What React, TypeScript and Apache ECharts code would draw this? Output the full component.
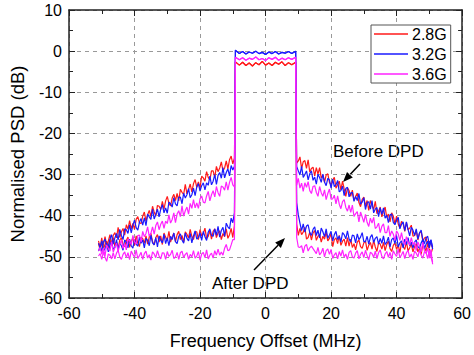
import React, { useEffect, useRef } from "react";
import * as echarts from "echarts";

// Frequency offsets (MHz)
const LEFT_X = [
  -51, -50.5, -50, -49.5, -49, -48.5, -48, -47.5, -47, -46.5,
  -46, -45.5, -45, -44.5, -44, -43.5, -43, -42.5, -42, -41.5,
  -41, -40.5, -40, -39.5, -39, -38.5, -38, -37.5, -37, -36.5,
  -36, -35.5, -35, -34.5, -34, -33.5, -33, -32.5, -32, -31.5,
  -31, -30.5, -30, -29.5, -29, -28.5, -28, -27.5, -27, -26.5,
  -26, -25.5, -25, -24.5, -24, -23.5, -23, -22.5, -22, -21.5,
  -21, -20.5, -20, -19.5, -19, -18.5, -18, -17.5, -17, -16.5,
  -16, -15.5, -15, -14.5, -14, -13.5, -13, -12.5, -12, -11.5,
  -11, -10.5, -10, -9.5,
];
const CARRIER_X = [-9.2, -8, -7, -6, -5, -4, -3, -2, -1, 0, 1, 2, 3, 4, 5, 6, 7, 8, 9.2];
const RIGHT_X = [
  9.5, 10, 10.5, 11, 11.5, 12, 12.5, 13, 13.5, 14,
  14.5, 15, 15.5, 16, 16.5, 17, 17.5, 18, 18.5, 19,
  19.5, 20, 20.5, 21, 21.5, 22, 22.5, 23, 23.5, 24,
  24.5, 25, 25.5, 26, 26.5, 27, 27.5, 28, 28.5, 29,
  29.5, 30, 30.5, 31, 31.5, 32, 32.5, 33, 33.5, 34,
  34.5, 35, 35.5, 36, 36.5, 37, 37.5, 38, 38.5, 39,
  39.5, 40, 40.5, 41, 41.5, 42, 42.5, 43, 43.5, 44,
  44.5, 45, 45.5, 46, 46.5, 47, 47.5, 48, 48.5, 49,
  49.5, 50, 50.5, 51,
];

const SERIES_NAMES = ["2.8G", "3.2G", "3.6G"];

// In-band (carrier) PSD, dB
const CARRIER_28 = [-2.6, -3.4, -2.7, -3.5, -2.9, -3.6, -2.8, -3.3, -2.5, -3.4, -2.9, -3.5, -2.7, -3.2, -2.6, -3.5, -2.8, -3.3, -2.7];
const CARRIER_32 = [0.2, -0.6, -0.1, -0.7, -0.2, -0.5, 0.0, -0.6, -0.3, -0.8, -0.2, -0.6, -0.1, -0.7, -0.3, -0.5, -0.1, -0.6, 0.0];
const CARRIER_36 = [-1.5, -2.1, -1.6, -2.2, -1.7, -2.0, -1.4, -2.1, -1.8, -2.3, -1.6, -2.0, -1.5, -2.2, -1.7, -2.1, -1.6, -2.0, -1.5];

// Before DPD, lower sideband
const BEFORE_L_28 = [
  -46.7, -48.4, -46.7, -47.2, -45.1, -47.1, -46.2, -44.6, -47.0, -44.8,
  -44.1, -45.4, -42.8, -45.3, -43.9, -43.1, -44.7, -42.2, -43.3, -41.2,
  -43.2, -41.9, -43.3, -40.9, -40.2, -41.7, -41.9, -40.1, -39.1, -41.3,
  -39.8, -38.7, -40.2, -37.7, -39.1, -40.1, -37.5, -37.7, -38.5, -36.5,
  -38.4, -36.4, -35.3, -37.0, -37.6, -35.7, -34.8, -36.3, -34.6, -36.4,
  -33.6, -34.3, -34.8, -32.4, -34.7, -33.6, -32.3, -34.2, -32.2, -31.2,
  -33.1, -31.8, -33.2, -30.4, -30.8, -31.6, -29.3, -30.7, -31.3, -29.1,
  -29.1, -30.7, -28.0, -29.3, -28.4, -26.9, -29.1, -28.4, -26.7, -28.6,
  -26.4, -25.5, -27.4, -26.0,
];
const BEFORE_L_32 = [
  -48.6, -47.4, -48.7, -46.4, -45.7, -47.2, -47.4, -45.7, -44.6, -46.9,
  -45.4, -44.3, -45.9, -43.3, -44.8, -45.8, -43.2, -43.4, -44.3, -42.2,
  -44.2, -42.3, -41.1, -42.9, -43.5, -41.6, -40.7, -42.3, -40.5, -42.4,
  -39.6, -40.3, -40.9, -38.4, -40.8, -39.7, -38.4, -40.3, -38.4, -37.3,
  -39.3, -38.1, -39.4, -36.7, -37.1, -37.9, -35.6, -37.1, -37.6, -35.5,
  -35.5, -37.1, -34.5, -35.7, -34.9, -33.4, -35.6, -34.9, -33.3, -35.1,
  -33.0, -32.2, -34.0, -32.7, -32.0, -33.7, -32.0, -32.6, -30.4, -32.5,
  -31.6, -30.0, -32.4, -30.2, -29.5, -30.9, -28.3, -30.8, -29.5, -28.6,
  -30.3, -27.8, -28.9, -28.0,
];
const BEFORE_L_36 = [
  -48.5, -47.7, -49.4, -47.8, -49.8, -47.1, -48.0, -48.6, -46.3, -48.8,
  -47.8, -46.7, -48.7, -46.9, -45.9, -48.0, -46.8, -48.3, -45.6, -46.1,
  -47.0, -44.8, -46.3, -46.9, -44.8, -44.7, -46.4, -43.8, -45.1, -44.3,
  -42.7, -45.0, -44.3, -42.7, -44.5, -42.4, -41.5, -43.4, -42.1, -41.3,
  -43.1, -41.3, -41.9, -39.8, -41.8, -40.9, -39.3, -41.7, -39.6, -38.8,
  -40.2, -37.6, -40.1, -38.8, -37.9, -39.6, -37.0, -38.2, -36.1, -38.1,
  -36.9, -38.2, -35.9, -35.2, -36.7, -36.9, -35.2, -34.1, -36.4, -34.9,
  -33.9, -35.4, -32.9, -34.4, -35.3, -32.8, -33.0, -33.8, -31.8, -33.8,
  -31.9, -30.7, -32.5, -33.0,
];

// Before DPD, upper sideband
const BEFORE_R_28 = [
  -27.2, -26.7, -25.7, -28.5, -26.9, -26.6, -28.5, -26.4, -29.4, -28.5,
  -28.2, -30.3, -28.3, -29.9, -28.3, -30.8, -30.1, -31.9, -30.1, -29.8,
  -31.9, -32.5, -31.3, -30.7, -33.3, -32.4, -31.6, -33.7, -31.6, -33.5,
  -35.3, -33.2, -33.9, -35.3, -33.8, -36.3, -35.3, -34.5, -36.8, -37.8,
  -36.0, -35.5, -37.6, -36.3, -38.7, -36.3, -37.5, -38.5, -36.5, -39.5,
  -38.9, -37.9, -40.3, -38.9, -37.9, -40.4, -39.6, -41.5, -39.3, -40.1,
  -42.0, -40.1, -42.0, -43.0, -41.4, -41.9, -43.8, -41.6, -43.4, -43.0,
  -42.3, -45.0, -44.8, -43.6, -45.9, -44.2, -43.8, -46.2, -45.4, -45.2,
  -47.5, -46.2, -47.0, -47.8,
];
const BEFORE_R_32 = [
  -28.0, -29.1, -30.1, -28.0, -30.7, -30.0, -29.1, -31.3, -29.8, -29.1,
  -31.4, -30.6, -32.3, -29.9, -30.7, -31.9, -29.9, -31.8, -32.7, -30.9,
  -31.3, -33.3, -31.1, -32.9, -32.5, -31.4, -34.2, -33.9, -32.8, -35.1,
  -33.4, -33.1, -35.4, -34.5, -34.3, -36.5, -35.3, -36.3, -34.6, -37.2,
  -36.7, -35.6, -38.5, -36.8, -36.6, -38.4, -36.3, -39.3, -38.4, -38.0,
  -40.2, -38.1, -39.7, -38.1, -40.6, -39.9, -41.7, -39.8, -39.6, -41.6,
  -42.2, -41.0, -40.4, -43.2, -42.1, -41.5, -43.6, -41.5, -43.4, -44.9,
  -42.8, -43.5, -44.8, -43.2, -45.7, -44.2, -43.5, -45.8, -46.8, -45.4,
  -45.0, -47.0, -45.8, -48.1,
];
const BEFORE_R_36 = [
  -32.6, -30.9, -33.3, -32.1, -34.1, -32.0, -33.1, -31.7, -33.9, -34.6,
  -32.9, -32.7, -34.3, -35.3, -32.9, -34.4, -35.3, -33.7, -36.1, -34.6,
  -33.5, -36.0, -35.9, -35.0, -37.1, -35.2, -37.2, -38.3, -36.6, -36.1,
  -38.0, -38.9, -37.4, -39.2, -37.4, -40.2, -39.5, -39.0, -41.5, -39.1,
  -40.3, -41.6, -39.7, -41.6, -42.6, -40.6, -41.8, -40.4, -43.1, -42.7,
  -41.8, -44.1, -42.6, -42.0, -44.1, -44.1, -42.4, -45.0, -43.7, -44.5,
  -46.0, -43.7, -44.4, -46.0, -44.1, -46.2, -47.0, -45.1, -46.4, -47.1,
  -45.3, -47.0, -46.4, -48.5, -46.4, -47.3, -48.8, -46.4, -48.5, -49.2,
  -47.8, -50.3, -48.2, -51.8,
];

// After DPD, lower sideband
const AFTER_L_28 = [
  -46.1, -47.7, -45.4, -48.1, -47.0, -46.2, -48.1, -45.8, -47.2, -45.3,
  -47.4, -46.4, -48.0, -45.9, -45.4, -47.1, -47.5, -46.0, -45.2, -47.7,
  -46.2, -45.4, -47.2, -44.9, -46.6, -47.5, -45.2, -45.6, -46.7, -44.9,
  -46.9, -45.2, -44.3, -46.3, -47.1, -45.3, -44.6, -46.4, -44.9, -47.0,
  -44.2, -45.2, -46.0, -43.8, -46.4, -45.2, -44.2, -46.3, -44.6, -43.8,
  -45.8, -44.8, -46.4, -43.9, -44.5, -45.4, -43.3, -45.0, -45.8, -43.9,
  -43.9, -45.8, -43.4, -44.9, -44.3, -43.0, -45.5, -45.0, -43.6, -45.7,
  -43.8, -43.2, -45.3, -44.2, -43.7, -45.8, -44.3, -45.1, -43.2, -45.5,
  -44.6, -43.1, -45.3, -42.4,
];
const AFTER_L_32 = [
  -46.7, -47.7, -46.1, -48.6, -48.0, -46.7, -48.8, -47.1, -46.3, -48.2,
  -47.7, -45.8, -48.2, -46.7, -47.3, -48.4, -45.9, -46.4, -47.8, -45.7,
  -47.3, -47.9, -45.8, -46.9, -47.4, -45.2, -46.7, -45.9, -47.8, -45.5,
  -46.0, -47.3, -44.7, -46.6, -47.1, -45.3, -47.6, -44.9, -46.0, -46.6,
  -44.5, -46.8, -45.4, -47.3, -45.0, -45.8, -44.2, -46.3, -46.8, -45.0,
  -44.4, -45.9, -46.7, -44.2, -45.5, -46.1, -44.3, -46.6, -44.9, -43.7,
  -45.7, -45.3, -44.2, -46.0, -43.8, -45.1, -46.0, -44.0, -43.2, -44.8,
  -45.0, -43.2, -44.7, -42.6, -45.2, -43.6, -42.8, -45.0, -41.8, -42.7,
  -43.2, -40.6, -41.7, -39.3,
];
const AFTER_L_36 = [
  -49.8, -49.2, -50.6, -48.8, -50.1, -51.1, -49.3, -49.6, -50.5, -49.0,
  -50.5, -49.1, -48.4, -50.0, -50.6, -49.4, -48.8, -50.2, -49.0, -50.7,
  -48.6, -49.4, -50.1, -48.3, -50.4, -49.7, -48.9, -50.6, -49.2, -48.6,
  -50.3, -49.5, -50.8, -48.8, -49.3, -50.2, -48.5, -49.8, -50.5, -49.0,
  -49.1, -50.6, -48.7, -49.9, -49.4, -48.4, -50.4, -50.0, -48.9, -50.6,
  -49.0, -48.6, -50.2, -49.4, -49.0, -50.6, -49.4, -50.0, -48.5, -50.3,
  -49.8, -48.7, -50.8, -49.3, -48.9, -50.2, -48.3, -50.5, -49.6, -49.1,
  -50.3, -48.5, -49.6, -48.1, -49.6, -48.8, -49.6, -47.9, -47.0, -48.5,
  -48.3, -47.1, -45.8, -45.8,
];

// After DPD, upper sideband
const AFTER_R_28 = [
  -42.0, -44.8, -43.1, -44.6, -44.0, -42.8, -45.7, -45.3, -44.0, -45.9,
  -44.2, -43.6, -46.0, -45.0, -44.6, -46.4, -45.0, -45.7, -44.0, -46.1,
  -45.5, -44.3, -47.5, -45.8, -45.4, -46.8, -44.8, -47.2, -46.2, -45.7,
  -47.4, -45.3, -47.4, -45.7, -47.7, -46.8, -48.3, -46.4, -45.9, -47.5,
  -47.9, -46.6, -46.1, -48.4, -47.2, -46.5, -48.1, -46.0, -47.6, -48.7,
  -46.6, -46.9, -48.1, -46.5, -48.5, -47.0, -46.2, -48.0, -48.7, -47.2,
  -46.6, -48.2, -47.1, -49.0, -46.6, -47.5, -48.2, -46.3, -48.6, -47.8,
  -46.9, -48.8, -47.5, -46.8, -48.8, -47.9, -49.4, -47.1, -47.6, -48.6,
  -46.7, -48.3, -49.2, -47.9,
];
const AFTER_R_32 = [
  -36.8, -39.8, -41.8, -43.6, -42.0, -44.0, -42.5, -42.2, -44.1, -44.8,
  -43.3, -42.7, -44.8, -43.5, -45.4, -43.0, -43.9, -45.1, -43.2, -45.5,
  -44.7, -43.8, -46.1, -44.6, -43.8, -45.8, -44.9, -46.4, -44.1, -44.6,
  -45.6, -43.7, -45.7, -46.4, -44.7, -44.9, -46.6, -44.4, -45.8, -45.2,
  -44.1, -46.3, -46.3, -45.0, -46.9, -45.2, -44.6, -46.5, -45.5, -45.1,
  -46.9, -45.5, -46.7, -44.9, -47.0, -46.4, -45.2, -47.6, -45.8, -45.4,
  -46.8, -44.8, -47.6, -46.6, -46.1, -47.8, -45.7, -47.0, -45.3, -47.3,
  -46.4, -47.9, -46.4, -45.9, -47.5, -47.9, -46.6, -45.8, -48.1, -46.9,
  -46.2, -47.8, -46.0, -47.6,
];
const AFTER_R_36 = [
  -45.3, -47.6, -47.7, -47.3, -49.0, -47.4, -47.0, -48.6, -47.8, -47.4,
  -48.0, -48.6, -49.2, -47.7, -49.5, -49.0, -47.9, -50.0, -48.5, -48.1,
  -49.4, -48.2, -50.4, -49.5, -49.0, -50.5, -48.7, -49.8, -48.3, -50.1,
  -49.3, -50.6, -48.9, -48.5, -50.0, -50.3, -49.1, -48.5, -50.5, -49.4,
  -48.8, -50.2, -48.4, -49.7, -50.7, -48.9, -49.2, -50.1, -48.6, -50.4,
  -49.0, -48.3, -49.9, -50.5, -49.3, -48.7, -50.1, -48.9, -50.6, -48.5,
  -49.3, -49.9, -48.1, -50.2, -49.5, -48.7, -50.4, -49.0, -48.4, -50.1,
  -49.3, -50.6, -48.6, -49.1, -50.0, -48.3, -49.6, -50.3, -48.8, -48.9,
  -50.4, -48.4, -50.1, -51.3,
];

const COLORS = ["#ff1a1a", "#1a1aff", "#ff22ff"];

function trace(left: number[], carrier: number[], right: number[]) {
  const pts: number[][] = [];
  LEFT_X.forEach((x, i) => pts.push([x, left[i]]));
  CARRIER_X.forEach((x, i) => pts.push([x, carrier[i]]));
  RIGHT_X.forEach((x, i) => pts.push([x, right[i]]));
  return pts;
}

const FONT = "'Liberation Sans', Arial, Helvetica, sans-serif";

export default function App() {
  const ref = useRef<HTMLDivElement>(null);
  useEffect(() => {
    const chart = echarts.init(ref.current!, null, { renderer: "svg" });
    const traces = [
      { name: SERIES_NAMES[0], color: COLORS[0], data: trace(BEFORE_L_28, CARRIER_28, BEFORE_R_28) },
      { name: SERIES_NAMES[0], color: COLORS[0], data: trace(AFTER_L_28, CARRIER_28, AFTER_R_28) },
      { name: SERIES_NAMES[1], color: COLORS[1], data: trace(BEFORE_L_32, CARRIER_32, BEFORE_R_32) },
      { name: SERIES_NAMES[1], color: COLORS[1], data: trace(AFTER_L_32, CARRIER_32, AFTER_R_32) },
      { name: SERIES_NAMES[2], color: COLORS[2], data: trace(BEFORE_L_36, CARRIER_36, BEFORE_R_36) },
      { name: SERIES_NAMES[2], color: COLORS[2], data: trace(AFTER_L_36, CARRIER_36, AFTER_R_36) },
    ];
    const axisLine = { show: true, onZero: false, lineStyle: { color: "#222", width: 1.5 } };
    const axisTick = { show: true, inside: true, length: 6, lineStyle: { color: "#222", width: 1 } };
    const minorTick = { show: true, splitNumber: 2, length: 4, lineStyle: { color: "#222", width: 1 } };
    const splitLine = { show: true, lineStyle: { color: "#999", width: 1, type: [4, 4] as any } };
    const option: any = {
      animation: false,
      backgroundColor: "#fff",
      textStyle: { fontFamily: FONT },
      grid: { left: 61, right: 11, top: 10, bottom: 55, containLabel: false },
      xAxis: [
        {
          type: "value", min: -60, max: 60, interval: 20, position: "bottom",
          axisLine, axisTick, minorTick, splitLine,
          axisLabel: { fontSize: 16, color: "#000", margin: 7, fontFamily: FONT },
          name: "Frequency Offset (MHz)", nameLocation: "middle", nameGap: 34,
          nameTextStyle: { fontSize: 18, color: "#000", fontFamily: FONT },
        },
        {
          type: "value", min: -60, max: 60, interval: 20, position: "top",
          axisLine, axisTick, minorTick, splitLine: { show: false }, axisLabel: { show: false },
        },
      ],
      yAxis: [
        {
          type: "value", min: -60, max: 10, interval: 10, position: "left",
          axisLine, axisTick, minorTick, splitLine,
          axisLabel: { fontSize: 16, color: "#000", margin: 7, fontFamily: FONT },
          name: "Normalised PSD (dB)", nameLocation: "middle", nameGap: 42,
          nameTextStyle: { fontSize: 18.5, color: "#000", fontFamily: FONT },
        },
        {
          type: "value", min: -60, max: 10, interval: 10, position: "right",
          axisLine, axisTick, minorTick, splitLine: { show: false }, axisLabel: { show: false },
        },
      ],
      legend: {
        data: SERIES_NAMES,
        orient: "vertical",
        left: 371, top: 25,
        icon: "rect", itemWidth: 34, itemHeight: 1.5, itemGap: 4,
        padding: [1, 4, 1, 3],
        borderColor: "#555", borderWidth: 1, backgroundColor: "#fff",
        selectedMode: false,
        textStyle: { fontSize: 16, color: "#000", fontFamily: FONT, padding: [0, 0, 0, -1] },
      },
      series: traces.map((t) => ({
        type: "line", name: t.name, data: t.data, xAxisIndex: 0, yAxisIndex: 0,
        showSymbol: false, symbol: "none", color: t.color,
        lineStyle: { color: t.color, width: 1.2 }, itemStyle: { color: t.color },
      })),
      graphic: [
        { type: "text", left: 333, top: 143, style: { text: "Before DPD", fontSize: 17, fill: "#000", fontFamily: FONT } },
        { type: "line", shape: { x1: 360, y1: 164, x2: 349.9, y2: 174.7 }, style: { stroke: "#000", lineWidth: 1.5 } },
        { type: "polygon", shape: { points: [[343, 182], [352.8, 177.4], [347.0, 172.0]] }, style: { fill: "#000" } },
        { type: "text", left: 212, top: 275, style: { text: "After DPD", fontSize: 17, fill: "#000", fontFamily: FONT } },
        { type: "line", shape: { x1: 254, y1: 270, x2: 278.05, y2: 245.2 }, style: { stroke: "#000", lineWidth: 1.5 } },
        { type: "polygon", shape: { points: [[285, 238], [280.9, 248.0], [275.2, 242.4]] }, style: { fill: "#000" } },
      ],
    };
    chart.setOption(option);
    return () => chart.dispose();
  }, []);
  return (
    <div
      ref={ref}
      style={{ position: "fixed", left: 0, top: 0, width: 474, height: 355, background: "#fff" }}
    />
  );
}
